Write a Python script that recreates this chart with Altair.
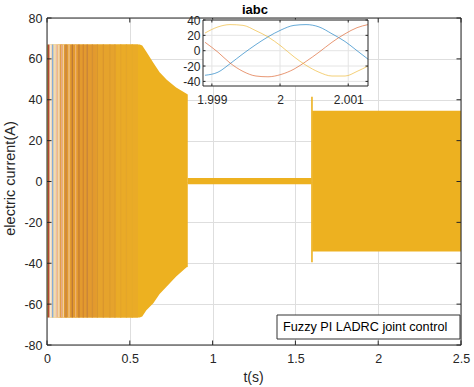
import altair as alt
import pandas as pd

# ---------------- values ----------------
# main plot: envelope of the dense three-phase current
env_t  = [0.015, 0.56, 0.575, 0.60, 0.642, 0.68, 0.723, 0.78, 0.843, 0.85]
env_hi = [67.0, 67.0, 66.5, 63.5, 58.1, 53.5, 49.8, 46.0, 42.9, 42.6]
env_lo = [-66.5, -66.5, -66.0, -63.0, -59.6, -55.0, -51.4, -46.5, -42.0, -41.8]

low_t  = [0.85, 1.598]
low_hi = [1.7, 1.7]
low_lo = [-1.4, -1.4]

load_t  = [1.602, 2.5]
load_hi = [34.6, 34.6]
load_lo = [-34.2, -34.2]

spike_t  = [1.600]
spike_hi = [41.5]
spike_lo = [-39.5]

# tinted bands of the start-up region
band_t0  = [0.015, 0.065, 0.30, 0.42]
band_t1  = [0.065, 0.30, 0.42, 0.55]
band_col = ["#F0D3AC", "#E39A2E", "#E6A32C", "#EAAB27"]
band_hi, band_lo = 67.0, -66.5

# single visible traces in the start-up region
trace_t   = [0.004, 0.010, 0.022, 0.034, 0.046, 0.058, 0.072, 0.087, 0.098, 0.115,
             0.133, 0.153, 0.173, 0.193, 0.219, 0.243, 0.274, 0.304, 0.340, 0.380,
             0.410, 0.445, 0.480, 0.515]
trace_col = ["#C9B040", "#B0463A", "#F6EADA", "#86AED6", "#F3DDA8", "#E9BBAA", "#F7ECDF",
             "#E6A888", "#F2D6B4", "#C4844A", "#F0C48C", "#BC7838", "#EDB070", "#C67C34",
             "#D08630", "#C8843A", "#D49032", "#D89630", "#DA952E", "#DE9C2C",
             "#E09E2C", "#E4A52A", "#E4A62A", "#E7AA28"]

# inset "iabc"
ins_t = [1.998899, 1.999090, 1.999266, 1.999457, 1.999647, 1.999823, 2.000014,
         2.000205, 2.000381, 2.000571, 2.000762, 2.000953, 2.001129, 2.001290]
ins_a = [-32, -28, -17, -4, 8, 18, 27, 33, 34, 31, 22, 12, 0, -11]
ins_b = [11, -2, -16, -27, -33, -34, -31, -24, -14, -2, 11, 22, 30, 34]
ins_c = [23, 31, 34, 33, 26, 18, 6, -8, -19, -28, -33, -33, -27, -20]

x_ticks = [0, 0.5, 1, 1.5, 2, 2.5]
y_ticks = [-80, -60, -40, -20, 0, 20, 40, 60, 80]
ins_x_ticks = [1.999, 2.0, 2.001]
ins_y_ticks = [-40, -20, 0, 20, 40]
legend_text = "Fuzzy PI LADRC joint control"
inset_title = "iabc"

# ---------------- styling ----------------
W, H = 414, 327
FONT = "Liberation Sans"
INK = "#262626"
GRID = "#dedede"
YEL = "#EDB120"
LINE_COLORS = ["#0072BD", "#D95319", "#EDB120"]

IX0, IX1 = 1.99887, 2.00129
IY0, IY1 = -46, 40
IL, IR, IT, IB = 156, 321, 2, 68


def xs():
    return alt.Scale(domain=[0, 2.5], range=[0, W], nice=False, zero=False)


def ys():
    return alt.Scale(domain=[-80, 80], range=[H, 0], nice=False, zero=False)


def ixs():
    return alt.Scale(domain=[IX0, IX1], range=[IL, IR], nice=False, zero=False)


def iys():
    return alt.Scale(domain=[IY0, IY1], range=[IB, IT], nice=False, zero=False)


common_axis = dict(domain=False, ticks=False, tickSize=0, labelFlush=False, labelOverlap=False,
                   labelFont=FONT, labelColor=INK, labelExpr="'' + datum.value",
                   titleFont=FONT, titleColor=INK, titleFontWeight="normal")

x_axis = alt.Axis(values=x_ticks, orient="bottom", grid=True, gridColor=GRID, labelPadding=7,
                  labelFontSize=12.5, titleFontSize=14, titleX=206, titleY=32,
                  titleAlign="center", titleBaseline="middle", **common_axis)
y_axis = alt.Axis(values=y_ticks, orient="left", grid=True, gridColor=GRID, labelPadding=5,
                  labelFontSize=12.5, titleFontSize=14.5, titleX=-37, titleY=160,
                  titleAlign="center", titleBaseline="middle", **common_axis)

ins_x_axis = alt.Axis(values=ins_x_ticks, orient="bottom", offset=IB - H, grid=False,
                      labelPadding=8, labelFontSize=12, **common_axis)
ins_y_axis = alt.Axis(values=ins_y_ticks, orient="left", offset=-IL, grid=False,
                      labelPadding=3, labelFontSize=12, **common_axis)

# ---------------- tables ----------------
env_df = pd.DataFrame({
    "t": env_t + low_t + load_t,
    "hi": env_hi + low_hi + load_hi,
    "lo": env_lo + low_lo + load_lo,
    "seg": ["a"] * len(env_t) + ["b"] * len(low_t) + ["c"] * len(load_t),
})
band_rows = []
for i, (t0, t1, c) in enumerate(zip(band_t0, band_t1, band_col)):
    band_rows.append({"t": t0, "hi": band_hi, "lo": band_lo, "g": i, "col": c})
    band_rows.append({"t": t1, "hi": band_hi, "lo": band_lo, "g": i, "col": c})
band_df = pd.DataFrame(band_rows)
trace_df = pd.DataFrame({"t": trace_t, "col": trace_col,
                         "hi": [band_hi] * len(trace_t), "lo": [band_lo] * len(trace_t)})
spike_df = pd.DataFrame({"t": spike_t, "hi": spike_hi, "lo": spike_lo})

ins_df = pd.DataFrame({
    "t": ins_t * 3,
    "v": ins_a + ins_b + ins_c,
    "phase": ["a"] * len(ins_t) + ["b"] * len(ins_t) + ["c"] * len(ins_t),
})
one = pd.DataFrame({"k": [0]})
yt = pd.DataFrame({"v": y_ticks})
xt = pd.DataFrame({"v": x_ticks})
iyt = pd.DataFrame({"v": ins_y_ticks})
ixt = pd.DataFrame({"v": ins_x_ticks})

# ---------------- main plot ----------------
area = alt.Chart(env_df).mark_area(color=YEL).encode(
    x=alt.X("t:Q", scale=xs(), axis=x_axis, title="t(s)"),
    y=alt.Y("hi:Q", scale=ys(), axis=y_axis, title="electric current(A)"),
    y2="lo:Q",
    detail="seg:N",
)
bands = alt.Chart(band_df).mark_area().encode(
    x=alt.X("t:Q", scale=xs(), axis=None),
    y=alt.Y("hi:Q", scale=ys(), axis=None),
    y2="lo:Q",
    color=alt.Color("col:N", scale=None),
    detail="g:N",
)
traces = alt.Chart(trace_df).mark_rule(strokeWidth=1.3).encode(
    x=alt.X("t:Q", scale=xs(), axis=None),
    y=alt.Y("hi:Q", scale=ys(), axis=None),
    y2="lo:Q",
    color=alt.Color("col:N", scale=None),
)
spike = alt.Chart(spike_df).mark_rule(color=YEL, strokeWidth=1.6).encode(
    x=alt.X("t:Q", scale=xs(), axis=None),
    y=alt.Y("hi:Q", scale=ys(), axis=None),
    y2="lo:Q",
)
TL = 4.5
tick_l = alt.Chart(yt).mark_rule(color=INK).encode(
    y=alt.Y("v:Q", scale=ys(), axis=None), x=alt.value(0), x2=alt.value(TL))
tick_r = alt.Chart(yt).mark_rule(color=INK).encode(
    y=alt.Y("v:Q", scale=ys(), axis=None), x=alt.value(W - TL), x2=alt.value(W))
tick_b = alt.Chart(xt).mark_rule(color=INK).encode(
    x=alt.X("v:Q", scale=xs(), axis=None), y=alt.value(H), y2=alt.value(H - TL))
tick_t = alt.Chart(xt).mark_rule(color=INK).encode(
    x=alt.X("v:Q", scale=xs(), axis=None), y=alt.value(0), y2=alt.value(TL))
box = alt.Chart(one).mark_rect(fillOpacity=0, stroke=INK, strokeWidth=1).encode(
    x=alt.X(datum=0, scale=xs(), axis=None), x2=alt.X2(datum=2.5),
    y=alt.Y(datum=-80, scale=ys(), axis=None), y2=alt.Y2(datum=80))

# ---------------- inset ----------------
ins_bg = alt.Chart(one).mark_rect(fill="white").encode(
    x=alt.X(datum=IX0, scale=ixs(), axis=ins_x_axis, title=""),
    x2=alt.X2(datum=IX1),
    y=alt.Y(datum=IY0, scale=iys(), axis=ins_y_axis, title=""),
    y2=alt.Y2(datum=IY1),
)
ins_vgrid = alt.Chart(ixt).mark_rule(color="#e4e4e4").encode(
    x=alt.X("v:Q", scale=ixs(), axis=None),
    y=alt.Y(datum=IY0, scale=iys(), axis=None), y2=alt.Y2(datum=IY1))
ins_hgrid = alt.Chart(iyt).mark_rule(color="#e4e4e4").encode(
    y=alt.Y("v:Q", scale=iys(), axis=None),
    x=alt.X(datum=IX0, scale=ixs(), axis=None), x2=alt.X2(datum=IX1))
ins_lines = alt.Chart(ins_df).mark_line(strokeWidth=1, opacity=0.6, interpolate="monotone").encode(
    x=alt.X("t:Q", scale=ixs(), axis=None),
    y=alt.Y("v:Q", scale=iys(), axis=None),
    color=alt.Color("phase:N", scale=alt.Scale(domain=["a", "b", "c"], range=LINE_COLORS), legend=None),
)
ins_box = alt.Chart(one).mark_rect(fillOpacity=0, stroke=INK, strokeWidth=1).encode(
    x=alt.X(datum=IX0, scale=ixs(), axis=None), x2=alt.X2(datum=IX1),
    y=alt.Y(datum=IY0, scale=iys(), axis=None), y2=alt.Y2(datum=IY1))
ITL = 2.5
itick_l = alt.Chart(iyt).mark_rule(color=INK).encode(
    y=alt.Y("v:Q", scale=iys(), axis=None), x=alt.value(IL), x2=alt.value(IL + ITL))
itick_r = alt.Chart(iyt).mark_rule(color=INK).encode(
    y=alt.Y("v:Q", scale=iys(), axis=None), x=alt.value(IR - ITL), x2=alt.value(IR))
itick_b = alt.Chart(ixt).mark_rule(color=INK).encode(
    x=alt.X("v:Q", scale=ixs(), axis=None), y=alt.value(IB), y2=alt.value(IB - ITL))
itick_t = alt.Chart(ixt).mark_rule(color=INK).encode(
    x=alt.X("v:Q", scale=ixs(), axis=None), y=alt.value(IT), y2=alt.value(IT + ITL))
ins_title = alt.Chart(one).mark_text(text=inset_title, font=FONT, fontSize=13, fontWeight="bold",
                                     color="#000000", align="center", baseline="middle").encode(
    x=alt.value(208), y=alt.value(-8))

leg_box = alt.Chart(one).mark_rect(fill="white", stroke="#333333", strokeWidth=1).encode(
    x=alt.value(230), x2=alt.value(413), y=alt.value(297), y2=alt.value(321))
leg_text = alt.Chart(one).mark_text(text=legend_text, font=FONT, fontSize=12.7, color="#000000",
                                    align="left", baseline="middle").encode(
    x=alt.value(236), y=alt.value(309))

chart = alt.layer(
    area, bands, traces, spike, tick_l, tick_r, tick_b, tick_t, box,
    ins_bg, ins_vgrid, ins_hgrid, ins_lines, ins_box,
    itick_l, itick_r, itick_b, itick_t, ins_title, leg_box, leg_text,
).resolve_scale(x="independent", y="independent").properties(
    width=W, height=H, autosize=alt.AutoSizeParams(type="none"),
    padding={"left": 47, "top": 18, "right": 13, "bottom": 42},
    background="white",
).configure_view(stroke="transparent")

chart.save("out.html", embed_options={"renderer": "svg", "actions": False})
